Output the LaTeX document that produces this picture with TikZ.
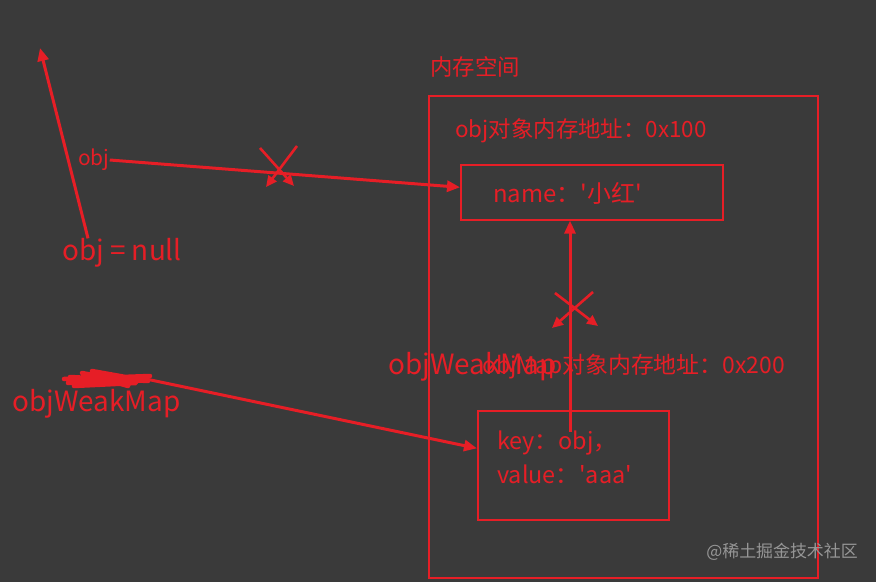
\documentclass[tikz,border=0pt]{standalone}
\usepackage{fontspec}
\setmainfont{Noto Sans CJK SC}
\usetikzlibrary{arrows.meta}
\definecolor{bg}{RGB}{58,58,58}
\definecolor{ink}{RGB}{230,30,38}
\definecolor{wm}{RGB}{150,150,150}
\newcommand{\q}{\textquotesingle}

\begin{document}
\begin{tikzpicture}[x=1bp, y=-1bp,
  box/.style = {draw=ink, line width=1.6bp, inner sep=0pt, anchor=north west},
  txt/.style = {text=ink, anchor=west, inner sep=0pt, font=\fontsize{22.5}{26}\selectfont},
  ptr/.style = {draw=ink, line width=3bp, -{Triangle[length=13bp,width=11bp]}},
  cut/.style = {draw=ink, line width=2.6bp, -{Triangle[length=11bp,width=10bp]}}]
  \fill[bg] (0,0) rectangle (876,582);

  % memory area
  \node[box, minimum width=389bp, minimum height=482bp] (mem) at (428,95) {};
  \node[txt] (memlbl) at (430,67) {内存空间};
  \node[txt] (addr1) at (455,131) {obj对象内存地址：0x100};
  \node[box, minimum width=262bp, minimum height=55bp] (box1) at (460,164) {};
  \node[txt, font=\fontsize{24}{28}\selectfont] (name) at (493,193) {name：\q 小红\q};
  \node[txt, font=\fontsize{28}{30}\selectfont] (wm1) at (388,367) {objWeakMap};
  \node[txt, font=\fontsize{23}{26}\selectfont] (addr2) at (482,367) {objMap对象内存地址：0x200};
  \node[box, minimum width=191bp, minimum height=109bp] (box2) at (477,410) {};
  \node[txt, font=\fontsize{23.5}{26}\selectfont] (key) at (497,443) {key：obj，};
  \node[txt, font=\fontsize{23.5}{26}\selectfont] (val) at (497,474) {value：\q aaa\q};

  % variables
  \node[txt, font=\fontsize{21}{24}\selectfont] (obj) at (78,160) {obj};
  \node[txt, font=\fontsize{28}{30}\selectfont] (null) at (62,253) {obj = null};
  \node[txt, font=\fontsize{28}{30}\selectfont] (wm) at (12,404) {objWeakMap};
  \node[anchor=east, inner sep=0pt, text=wm, font=\fontsize{17}{20}\selectfont] (site) at (858,552) {@稀土掘金技术社区};

  % scribble
  \draw[ink, line width=4.5bp, line join=round, line cap=round]
    (64,379) -- (150,376) -- (68,383) -- (146,379) -- (74,386) -- (136,383)
    -- (82,373) -- (128,386) -- (92,371) -- (148,381) -- (70,377);
  \coordinate (scr) at (146,379);
  \coordinate (top) at (40,48);
  \coordinate (kobj) at (570,432);

  \draw[ptr] (obj.east) -- ([yshift=5bp]box1.west);
  \draw[ptr] ([xshift=26bp]null.north west) -- (top);
  \draw[ptr] (scr) -- ([yshift=17bp]box2.west);
  \draw[ptr] (kobj) -- (kobj |- box1.south);

  % crossed out links
  \draw[cut] (260,148) -- (294,186);
  \draw[cut] (297,146) -- (266,187);
  \draw[cut] (555,293) -- (598,326);
  \draw[cut] (593,292) -- (552,328);
\end{tikzpicture}
\end{document}
